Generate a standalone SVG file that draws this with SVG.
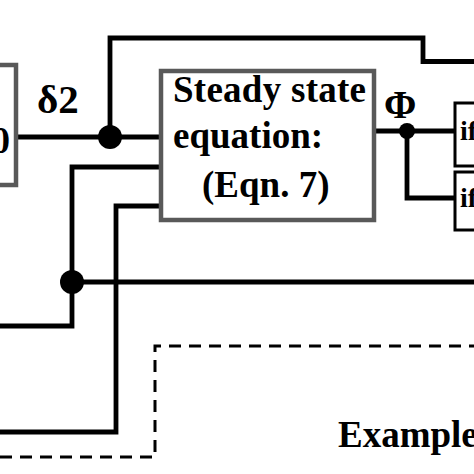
<svg xmlns="http://www.w3.org/2000/svg" width="474" height="474" viewBox="0 0 474 474">
<style>
.box{fill:#fff;stroke:#595959;stroke-width:4.5}
.ibox{fill:#fff;stroke:#000;stroke-width:3}
.t{font-family:"Liberation Serif","Times New Roman",serif;font-weight:bold;font-size:37px;fill:#000}
.ti{font-family:"Liberation Serif","Times New Roman",serif;font-weight:bold;font-size:28px;fill:#000}
.w{fill:none;stroke:#000;stroke-width:4.8}
.d{fill:none;stroke:#000;stroke-width:3;stroke-dasharray:12 8}
</style>
<rect width="474" height="474" fill="#fff"/>
<g id="connectors">
<path class="w" d="M16,137 H162"/>
<path class="w" d="M110,137 V38 H423 V61.5 H474"/>
<path class="w" d="M162,167 H72 V326 H0"/>
<path class="w" d="M162,206 H116 V432 H0"/>
<path class="w" d="M72,282 H474"/>
<path class="w" d="M374,131 H455"/>
<path class="w" d="M407,131 V198 H455"/>
<circle cx="110" cy="137" r="12"/>
<circle cx="72" cy="282" r="12"/>
<circle cx="407" cy="131" r="8"/>
</g>
<g id="left-box">
<rect class="box" x="-30" y="65" width="46" height="120"/>
<text class="t" x="10" y="153" text-anchor="end">0</text>
</g>
<g id="steady-state">
<rect class="box" x="161" y="71" width="213" height="149"/>
<text class="t" x="173" y="102" textLength="193">Steady state</text>
<text class="t" x="173" y="148">equation:</text>
<text class="t" x="202" y="197">(Eqn. 7)</text>
</g>
<g id="labels">
<text class="t" x="37" y="113" style="font-size:41px">δ2</text>
<text class="t" x="384" y="118" style="font-size:39px">Φ</text>
</g>
<g id="if-box-1">
<rect class="ibox" x="455" y="103" width="40" height="63"/>
<text class="ti" x="460" y="140">if</text>
</g>
<g id="if-box-2">
<rect class="ibox" x="455" y="172" width="40" height="58"/>
<text class="ti" x="460" y="207">if</text>
</g>
<g id="example">
<path class="d" d="M0,457 H155 V346 H474"/>
<text class="t" x="338" y="447">Example</text>
</g>
</svg>
